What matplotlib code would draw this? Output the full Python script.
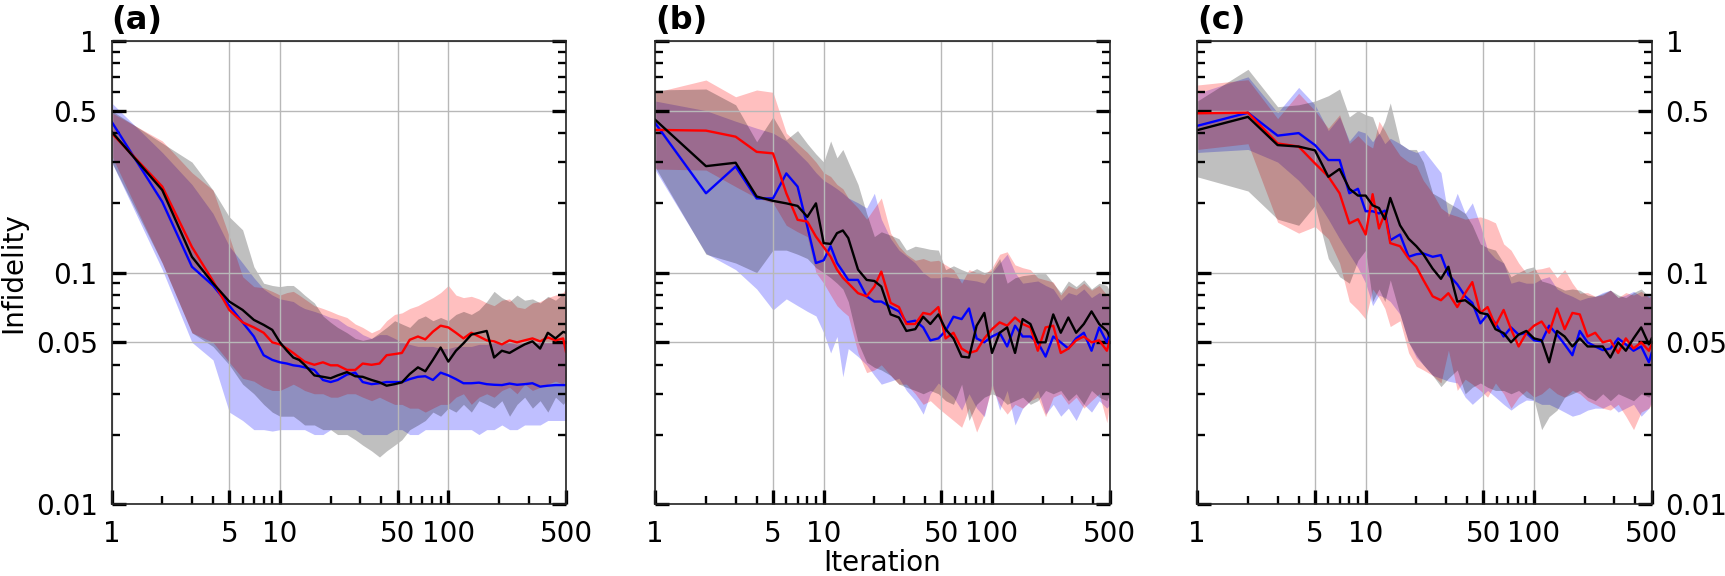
import matplotlib
matplotlib.use('Agg')
import matplotlib.pyplot as plt
from matplotlib.ticker import FixedLocator, NullFormatter

# iteration grid shared by all panels
iteration = [1, 2, 3, 4, 5, 6, 7, 8, 9, 10, 11, 12,
             13, 14, 16, 18, 20, 22, 25, 28, 31, 35, 39, 43,
             48, 53, 59, 66, 73, 81, 90, 100, 111, 123, 137, 152,
             169, 187, 208, 231, 256, 284, 316, 351, 390, 433, 481, 500]

# ---- panel (a)
a_red = [0.40, 0.235, 0.129, 0.092, 0.069, 0.061, 0.058, 0.055, 0.050, 0.049, 0.047, 0.045,
         0.043, 0.0413, 0.040, 0.041, 0.0398, 0.0398, 0.038, 0.038, 0.0405, 0.040, 0.0405, 0.044,
         0.0445, 0.045, 0.0513, 0.053, 0.0515, 0.0556, 0.059, 0.058, 0.055, 0.052, 0.055, 0.053,
         0.051, 0.0505, 0.049, 0.051, 0.050, 0.051, 0.052, 0.0505, 0.0525, 0.051, 0.052, 0.0455]
a_red_lo = [0.32, 0.11, 0.055, 0.050, 0.041, 0.035, 0.034, 0.032, 0.031, 0.031, 0.032, 0.033,
            0.032, 0.031, 0.030, 0.030, 0.029, 0.029, 0.030, 0.030, 0.029, 0.028, 0.029, 0.028,
            0.027, 0.027, 0.026, 0.026, 0.025, 0.026, 0.027, 0.027, 0.029, 0.030, 0.027, 0.029,
            0.030, 0.029, 0.031, 0.032, 0.030, 0.033, 0.031, 0.032, 0.033, 0.034, 0.033, 0.035]
a_red_hi = [0.49, 0.37, 0.27, 0.227, 0.143, 0.096, 0.087, 0.086, 0.083, 0.080, 0.082, 0.083,
            0.080, 0.077, 0.072, 0.070, 0.068, 0.066, 0.064, 0.060, 0.058, 0.055, 0.057, 0.062,
            0.066, 0.067, 0.070, 0.072, 0.075, 0.078, 0.082, 0.088, 0.080, 0.078, 0.079, 0.077,
            0.074, 0.072, 0.076, 0.077, 0.071, 0.070, 0.074, 0.075, 0.078, 0.080, 0.082, 0.086]
a_blue = [0.448, 0.202, 0.106, 0.088, 0.072, 0.061, 0.053, 0.044, 0.042, 0.041, 0.0405, 0.0398,
          0.0395, 0.039, 0.038, 0.0344, 0.0337, 0.0344, 0.0363, 0.037, 0.0337, 0.033, 0.0333, 0.0337,
          0.0337, 0.0337, 0.0347, 0.0355, 0.0357, 0.0344, 0.037, 0.036, 0.0347, 0.0333, 0.0333, 0.0335,
          0.033, 0.0328, 0.0327, 0.0332, 0.0328, 0.033, 0.0333, 0.0322, 0.0325, 0.0327, 0.0327, 0.0327]
a_blue_lo = [0.30, 0.103, 0.050, 0.042, 0.025, 0.023, 0.021, 0.021, 0.0207, 0.021, 0.021, 0.021,
             0.021, 0.021, 0.020, 0.020, 0.021, 0.021, 0.021, 0.021, 0.020, 0.020, 0.020, 0.020,
             0.021, 0.021, 0.020, 0.020, 0.021, 0.021, 0.021, 0.021, 0.021, 0.021, 0.021, 0.020,
             0.021, 0.021, 0.022, 0.021, 0.021, 0.022, 0.022, 0.022, 0.023, 0.023, 0.023, 0.023]
a_blue_hi = [0.54, 0.33, 0.24, 0.18, 0.13, 0.11, 0.095, 0.085, 0.080, 0.077, 0.076, 0.075,
             0.072, 0.070, 0.068, 0.066, 0.064, 0.063, 0.059, 0.057, 0.054, 0.052, 0.054, 0.054,
             0.052, 0.050, 0.049, 0.048, 0.048, 0.048, 0.047, 0.047, 0.048, 0.048, 0.048, 0.049,
             0.049, 0.050, 0.049, 0.050, 0.049, 0.050, 0.050, 0.051, 0.050, 0.050, 0.051, 0.051]
a_black = [0.406, 0.227, 0.117, 0.090, 0.075, 0.069, 0.0625, 0.0595, 0.0566, 0.050, 0.046, 0.043,
           0.042, 0.040, 0.036, 0.0355, 0.035, 0.036, 0.0372, 0.0357, 0.0355, 0.0344, 0.0336, 0.0325,
           0.033, 0.0336, 0.0365, 0.039, 0.0375, 0.042, 0.0475, 0.0413, 0.046, 0.0495, 0.054, 0.055,
           0.056, 0.043, 0.046, 0.045, 0.047, 0.049, 0.0505, 0.047, 0.055, 0.052, 0.0555, 0.055]
a_black_lo = [0.30, 0.11, 0.055, 0.048, 0.040, 0.033, 0.030, 0.027, 0.025, 0.024, 0.024, 0.024,
              0.023, 0.022, 0.022, 0.021, 0.021, 0.020, 0.020, 0.019, 0.018, 0.017, 0.016, 0.017,
              0.018, 0.019, 0.021, 0.022, 0.023, 0.025, 0.024, 0.026, 0.025, 0.027, 0.025, 0.028,
              0.027, 0.026, 0.028, 0.024, 0.027, 0.029, 0.026, 0.028, 0.025, 0.029, 0.027, 0.028]
a_black_hi = [0.50, 0.362, 0.30, 0.227, 0.174, 0.153, 0.106, 0.090, 0.088, 0.087, 0.088, 0.088,
              0.084, 0.080, 0.074, 0.065, 0.061, 0.058, 0.055, 0.052, 0.051, 0.052, 0.055, 0.058,
              0.062, 0.060, 0.058, 0.063, 0.065, 0.062, 0.064, 0.062, 0.066, 0.068, 0.066, 0.069,
              0.075, 0.083, 0.078, 0.075, 0.080, 0.076, 0.077, 0.074, 0.079, 0.076, 0.081, 0.075]

# ---- panel (b)
b_red = [0.413, 0.41, 0.386, 0.332, 0.327, 0.22, 0.169, 0.166, 0.143, 0.129, 0.117, 0.103,
         0.095, 0.09, 0.0815, 0.079, 0.087, 0.101, 0.074, 0.071, 0.060, 0.060, 0.067, 0.066,
         0.071, 0.052, 0.055, 0.047, 0.045, 0.046, 0.052, 0.057, 0.061, 0.059, 0.064, 0.060,
         0.058, 0.046, 0.058, 0.059, 0.045, 0.047, 0.051, 0.053, 0.050, 0.051, 0.046, 0.051]
b_red_lo = [0.28, 0.277, 0.235, 0.21, 0.20, 0.16, 0.15, 0.143, 0.10, 0.09, 0.08, 0.072,
            0.068, 0.065, 0.045, 0.037, 0.038, 0.04, 0.036, 0.033, 0.033, 0.030, 0.027, 0.028,
            0.026, 0.0245, 0.023, 0.0215, 0.026, 0.0205, 0.0245, 0.032, 0.027, 0.0245, 0.027, 0.026,
            0.028, 0.029, 0.0239, 0.029, 0.030, 0.027, 0.029, 0.026, 0.028, 0.030, 0.0225, 0.028]
b_red_hi = [0.60, 0.678, 0.574, 0.614, 0.60, 0.40, 0.36, 0.33, 0.30, 0.27, 0.26, 0.24,
            0.23, 0.21, 0.19, 0.17, 0.19, 0.21, 0.148, 0.13, 0.12, 0.113, 0.115, 0.112,
            0.113, 0.108, 0.103, 0.09, 0.103, 0.10, 0.098, 0.105, 0.12, 0.123, 0.108, 0.105,
            0.103, 0.095, 0.093, 0.091, 0.08, 0.088, 0.085, 0.09, 0.084, 0.088, 0.08, 0.082]
b_blue = [0.441, 0.22, 0.287, 0.209, 0.209, 0.268, 0.235, 0.158, 0.11, 0.113, 0.13, 0.11,
          0.101, 0.093, 0.093, 0.079, 0.075, 0.075, 0.071, 0.068, 0.061, 0.062, 0.058, 0.051,
          0.052, 0.056, 0.0645, 0.063, 0.070, 0.052, 0.050, 0.053, 0.055, 0.048, 0.059, 0.053,
          0.053, 0.050, 0.0434, 0.053, 0.050, 0.047, 0.052, 0.055, 0.046, 0.058, 0.050, 0.055]
b_blue_lo = [0.277, 0.121, 0.103, 0.085, 0.069, 0.077, 0.072, 0.068, 0.065, 0.055, 0.045, 0.053,
             0.0355, 0.047, 0.0434, 0.040, 0.036, 0.033, 0.034, 0.035, 0.031, 0.028, 0.0245, 0.030,
             0.0334, 0.031, 0.029, 0.0255, 0.030, 0.026, 0.0239, 0.0334, 0.0255, 0.031, 0.022, 0.026,
             0.028, 0.031, 0.0245, 0.027, 0.024, 0.026, 0.023, 0.027, 0.025, 0.028, 0.026, 0.027]
b_blue_hi = [0.55, 0.50, 0.45, 0.42, 0.40, 0.37, 0.33, 0.30, 0.27, 0.25, 0.24, 0.23,
             0.22, 0.21, 0.20, 0.19, 0.22, 0.17, 0.14, 0.125, 0.118, 0.11, 0.10, 0.095,
             0.095, 0.096, 0.095, 0.094, 0.093, 0.092, 0.09, 0.10, 0.11, 0.12, 0.10, 0.09,
             0.091, 0.092, 0.088, 0.085, 0.076, 0.082, 0.08, 0.085, 0.078, 0.082, 0.079, 0.08]
b_black = [0.456, 0.288, 0.298, 0.213, 0.204, 0.199, 0.194, 0.174, 0.199, 0.134, 0.133, 0.148,
           0.152, 0.141, 0.103, 0.093, 0.092, 0.087, 0.066, 0.064, 0.056, 0.057, 0.0645, 0.060,
           0.066, 0.057, 0.052, 0.0434, 0.043, 0.059, 0.067, 0.045, 0.055, 0.058, 0.045, 0.063,
           0.060, 0.050, 0.050, 0.066, 0.055, 0.064, 0.055, 0.060, 0.068, 0.060, 0.056, 0.053]
b_black_lo = [0.285, 0.12, 0.11, 0.10, 0.125, 0.125, 0.12, 0.115, 0.105, 0.10, 0.095, 0.09,
              0.085, 0.075, 0.05, 0.041, 0.039, 0.038, 0.036, 0.033, 0.032, 0.031, 0.030, 0.031,
              0.030, 0.028, 0.027, 0.033, 0.023, 0.027, 0.029, 0.030, 0.029, 0.027, 0.028, 0.029,
              0.027, 0.028, 0.031, 0.030, 0.031, 0.028, 0.030, 0.027, 0.031, 0.029, 0.028, 0.030]
b_black_hi = [0.614, 0.62, 0.53, 0.367, 0.47, 0.375, 0.41, 0.36, 0.325, 0.30, 0.37, 0.313,
              0.34, 0.30, 0.24, 0.18, 0.143, 0.15, 0.145, 0.14, 0.125, 0.13, 0.128, 0.126,
              0.125, 0.103, 0.107, 0.103, 0.10, 0.104, 0.10, 0.102, 0.115, 0.09, 0.095, 0.097,
              0.098, 0.099, 0.099, 0.09, 0.082, 0.092, 0.087, 0.093, 0.085, 0.09, 0.088, 0.083]

# ---- panel (c)
c_red = [0.487, 0.49, 0.361, 0.35, 0.296, 0.26, 0.22, 0.163, 0.17, 0.146, 0.218, 0.155,
         0.18, 0.134, 0.13, 0.115, 0.106, 0.093, 0.079, 0.076, 0.0815, 0.071, 0.0815, 0.091,
         0.067, 0.071, 0.059, 0.069, 0.057, 0.048, 0.0548, 0.059, 0.0615, 0.055, 0.07, 0.057,
         0.067, 0.066, 0.053, 0.055, 0.05, 0.051, 0.045, 0.052, 0.047, 0.05, 0.046, 0.049]
c_red_lo = [0.34, 0.36, 0.165, 0.148, 0.158, 0.14, 0.11, 0.075, 0.069, 0.063, 0.085, 0.078,
            0.07, 0.0585, 0.062, 0.045, 0.0394, 0.038, 0.036, 0.0334, 0.0463, 0.031, 0.0347, 0.033,
            0.031, 0.029, 0.0334, 0.030, 0.026, 0.029, 0.031, 0.029, 0.030, 0.032, 0.030, 0.029,
            0.031, 0.030, 0.028, 0.027, 0.026, 0.0255, 0.027, 0.024, 0.021, 0.025, 0.026, 0.027]
c_red_hi = [0.645, 0.68, 0.462, 0.594, 0.50, 0.42, 0.48, 0.361, 0.39, 0.36, 0.345, 0.45,
            0.41, 0.37, 0.32, 0.30, 0.29, 0.25, 0.22, 0.19, 0.18, 0.175, 0.17, 0.172,
            0.174, 0.17, 0.164, 0.133, 0.125, 0.11, 0.0995, 0.103, 0.104, 0.106, 0.095, 0.103,
            0.09, 0.0815, 0.082, 0.079, 0.08, 0.084, 0.078, 0.082, 0.08, 0.083, 0.078, 0.08]
c_blue = [0.43, 0.49, 0.39, 0.40, 0.355, 0.306, 0.306, 0.22, 0.23, 0.184, 0.184, 0.18,
          0.185, 0.138, 0.146, 0.117, 0.12, 0.121, 0.117, 0.119, 0.098, 0.089, 0.079, 0.074,
          0.0604, 0.066, 0.0604, 0.053, 0.058, 0.054, 0.055, 0.051, 0.0505, 0.059, 0.054, 0.049,
          0.044, 0.056, 0.05, 0.048, 0.0463, 0.047, 0.052, 0.049, 0.046, 0.048, 0.041, 0.045]
c_blue_lo = [0.33, 0.34, 0.30, 0.25, 0.21, 0.17, 0.14, 0.12, 0.105, 0.09, 0.072, 0.08,
             0.078, 0.075, 0.066, 0.05, 0.043, 0.04, 0.036, 0.035, 0.034, 0.0334, 0.029, 0.027,
             0.029, 0.031, 0.029, 0.027, 0.0255, 0.027, 0.0282, 0.028, 0.027, 0.027, 0.026, 0.025,
             0.024, 0.0245, 0.0255, 0.026, 0.026, 0.027, 0.025, 0.026, 0.027, 0.024, 0.026, 0.028]
c_blue_hi = [0.594, 0.70, 0.49, 0.63, 0.53, 0.41, 0.47, 0.37, 0.41, 0.40, 0.367, 0.40,
             0.36, 0.38, 0.36, 0.34, 0.33, 0.338, 0.30, 0.27, 0.174, 0.22, 0.18, 0.2,
             0.16, 0.125, 0.115, 0.11, 0.09, 0.092, 0.09, 0.09, 0.094, 0.096, 0.085, 0.0815,
             0.079, 0.076, 0.078, 0.079, 0.082, 0.084, 0.078, 0.08, 0.083, 0.079, 0.08, 0.078]
c_black = [0.412, 0.47, 0.355, 0.35, 0.337, 0.259, 0.28, 0.23, 0.215, 0.215, 0.195, 0.19,
           0.17, 0.21, 0.16, 0.14, 0.13, 0.12, 0.104, 0.094, 0.106, 0.075, 0.076, 0.072,
           0.067, 0.066, 0.057, 0.0548, 0.05, 0.054, 0.056, 0.052, 0.051, 0.041, 0.056, 0.053,
           0.048, 0.052, 0.048, 0.048, 0.048, 0.043, 0.05, 0.046, 0.052, 0.058, 0.049, 0.052]
c_black_lo = [0.259, 0.225, 0.17, 0.16, 0.195, 0.115, 0.096, 0.09, 0.113, 0.125, 0.075, 0.085,
              0.075, 0.093, 0.066, 0.05, 0.044, 0.040, 0.036, 0.0322, 0.035, 0.038, 0.03, 0.032,
              0.0334, 0.032, 0.031, 0.031, 0.03, 0.031, 0.029, 0.0282, 0.021, 0.0239, 0.0255, 0.029,
              0.030, 0.031, 0.029, 0.028, 0.03, 0.028, 0.03, 0.029, 0.028, 0.03, 0.029, 0.03]
c_black_hi = [0.55, 0.754, 0.52, 0.53, 0.55, 0.58, 0.62, 0.47, 0.5, 0.48, 0.47, 0.395,
              0.45, 0.54, 0.36, 0.34, 0.34, 0.30, 0.22, 0.21, 0.20, 0.19, 0.18, 0.16,
              0.133, 0.128, 0.125, 0.11, 0.096, 0.10, 0.104, 0.106, 0.092, 0.09, 0.087, 0.084,
              0.085, 0.084, 0.08, 0.079, 0.081, 0.084, 0.08, 0.078, 0.082, 0.085, 0.079, 0.083]

x_major = [1, 5, 10, 50, 100, 500]
x_labels = ['1', '5', '10', '50', '100', '500']
x_minor = [2, 3, 4, 6, 7, 8, 9, 20, 30, 40, 60, 70, 80, 90, 200, 300, 400]
y_major = [0.01, 0.05, 0.1, 0.5, 1]
y_labels = ['0.01', '0.05', '0.1', '0.5', '1']
y_minor = [0.02, 0.03, 0.04, 0.06, 0.07, 0.08, 0.09,
           0.2, 0.3, 0.4, 0.6, 0.7, 0.8, 0.9]

FS = 20


def draw_panel(ax, series, letter, labels):
    # series: list of (color, mean, lo, hi); fills drawn blue -> red -> black
    for color, mean, lo, hi in series:
        ax.fill_between(iteration, lo, hi, color=color, alpha=0.25, lw=0)
    for color, mean, lo, hi in series:
        ax.plot(iteration, mean, color=color, lw=1.7)

    ax.set_xscale('log')
    ax.set_yscale('log')
    ax.set_xlim(1, 500)
    ax.set_ylim(0.01, 1)

    ax.xaxis.set_major_locator(FixedLocator(x_major))
    ax.set_xticklabels(x_labels)
    ax.xaxis.set_minor_locator(FixedLocator(x_minor))
    ax.xaxis.set_minor_formatter(NullFormatter())
    ax.yaxis.set_major_locator(FixedLocator(y_major))
    ax.set_yticklabels(y_labels)
    ax.yaxis.set_minor_locator(FixedLocator(y_minor))
    ax.yaxis.set_minor_formatter(NullFormatter())

    ax.grid(True, which='major', color='#b8b8b8', lw=1.0)

    ax.tick_params(which='both', direction='in', top=False, bottom=True,
                   left=True, right=True, labelsize=FS, colors='black')
    ax.tick_params(which='major', length=10, width=2.4)
    ax.tick_params(which='minor', length=5.8, width=1.7)
    ax.tick_params(axis='x', pad=11)
    ax.tick_params(axis='y', pad=10, labelleft=(labels == 'left'),
                   labelright=(labels == 'right'))

    for sp in ax.spines.values():
        sp.set_linewidth(1.2)
        sp.set_color('#222222')

    ax.text(0.0, 1.025, letter, transform=ax.transAxes, fontsize=23,
            fontweight='bold', ha='left', va='baseline')


fig = plt.figure(figsize=(17.25, 5.76), dpi=100)

lefts = [111.6 / 1725, 655.3 / 1725, 1197.3 / 1725]
w = 454.4 / 1725
b = 71.7 / 576
h = 463.4 / 576

panel_a = [('b', a_blue, a_blue_lo, a_blue_hi),
           ('r', a_red, a_red_lo, a_red_hi),
           ('k', a_black, a_black_lo, a_black_hi)]
panel_b = [('b', b_blue, b_blue_lo, b_blue_hi),
           ('r', b_red, b_red_lo, b_red_hi),
           ('k', b_black, b_black_lo, b_black_hi)]
panel_c = [('b', c_blue, c_blue_lo, c_blue_hi),
           ('r', c_red, c_red_lo, c_red_hi),
           ('k', c_black, c_black_lo, c_black_hi)]

ax_a = fig.add_axes([lefts[0], b, w, h])
draw_panel(ax_a, panel_a, '(a)', 'left')
ax_a.set_ylabel('Infidelity', fontsize=FS, labelpad=6)

ax_b = fig.add_axes([lefts[1], b, w, h])
draw_panel(ax_b, panel_b, '(b)', 'none')
ax_b.set_xlabel('Iteration', fontsize=FS, labelpad=1)

ax_c = fig.add_axes([lefts[2], b, w, h])
draw_panel(ax_c, panel_c, '(c)', 'right')

fig.savefig('out.png', dpi=100)
